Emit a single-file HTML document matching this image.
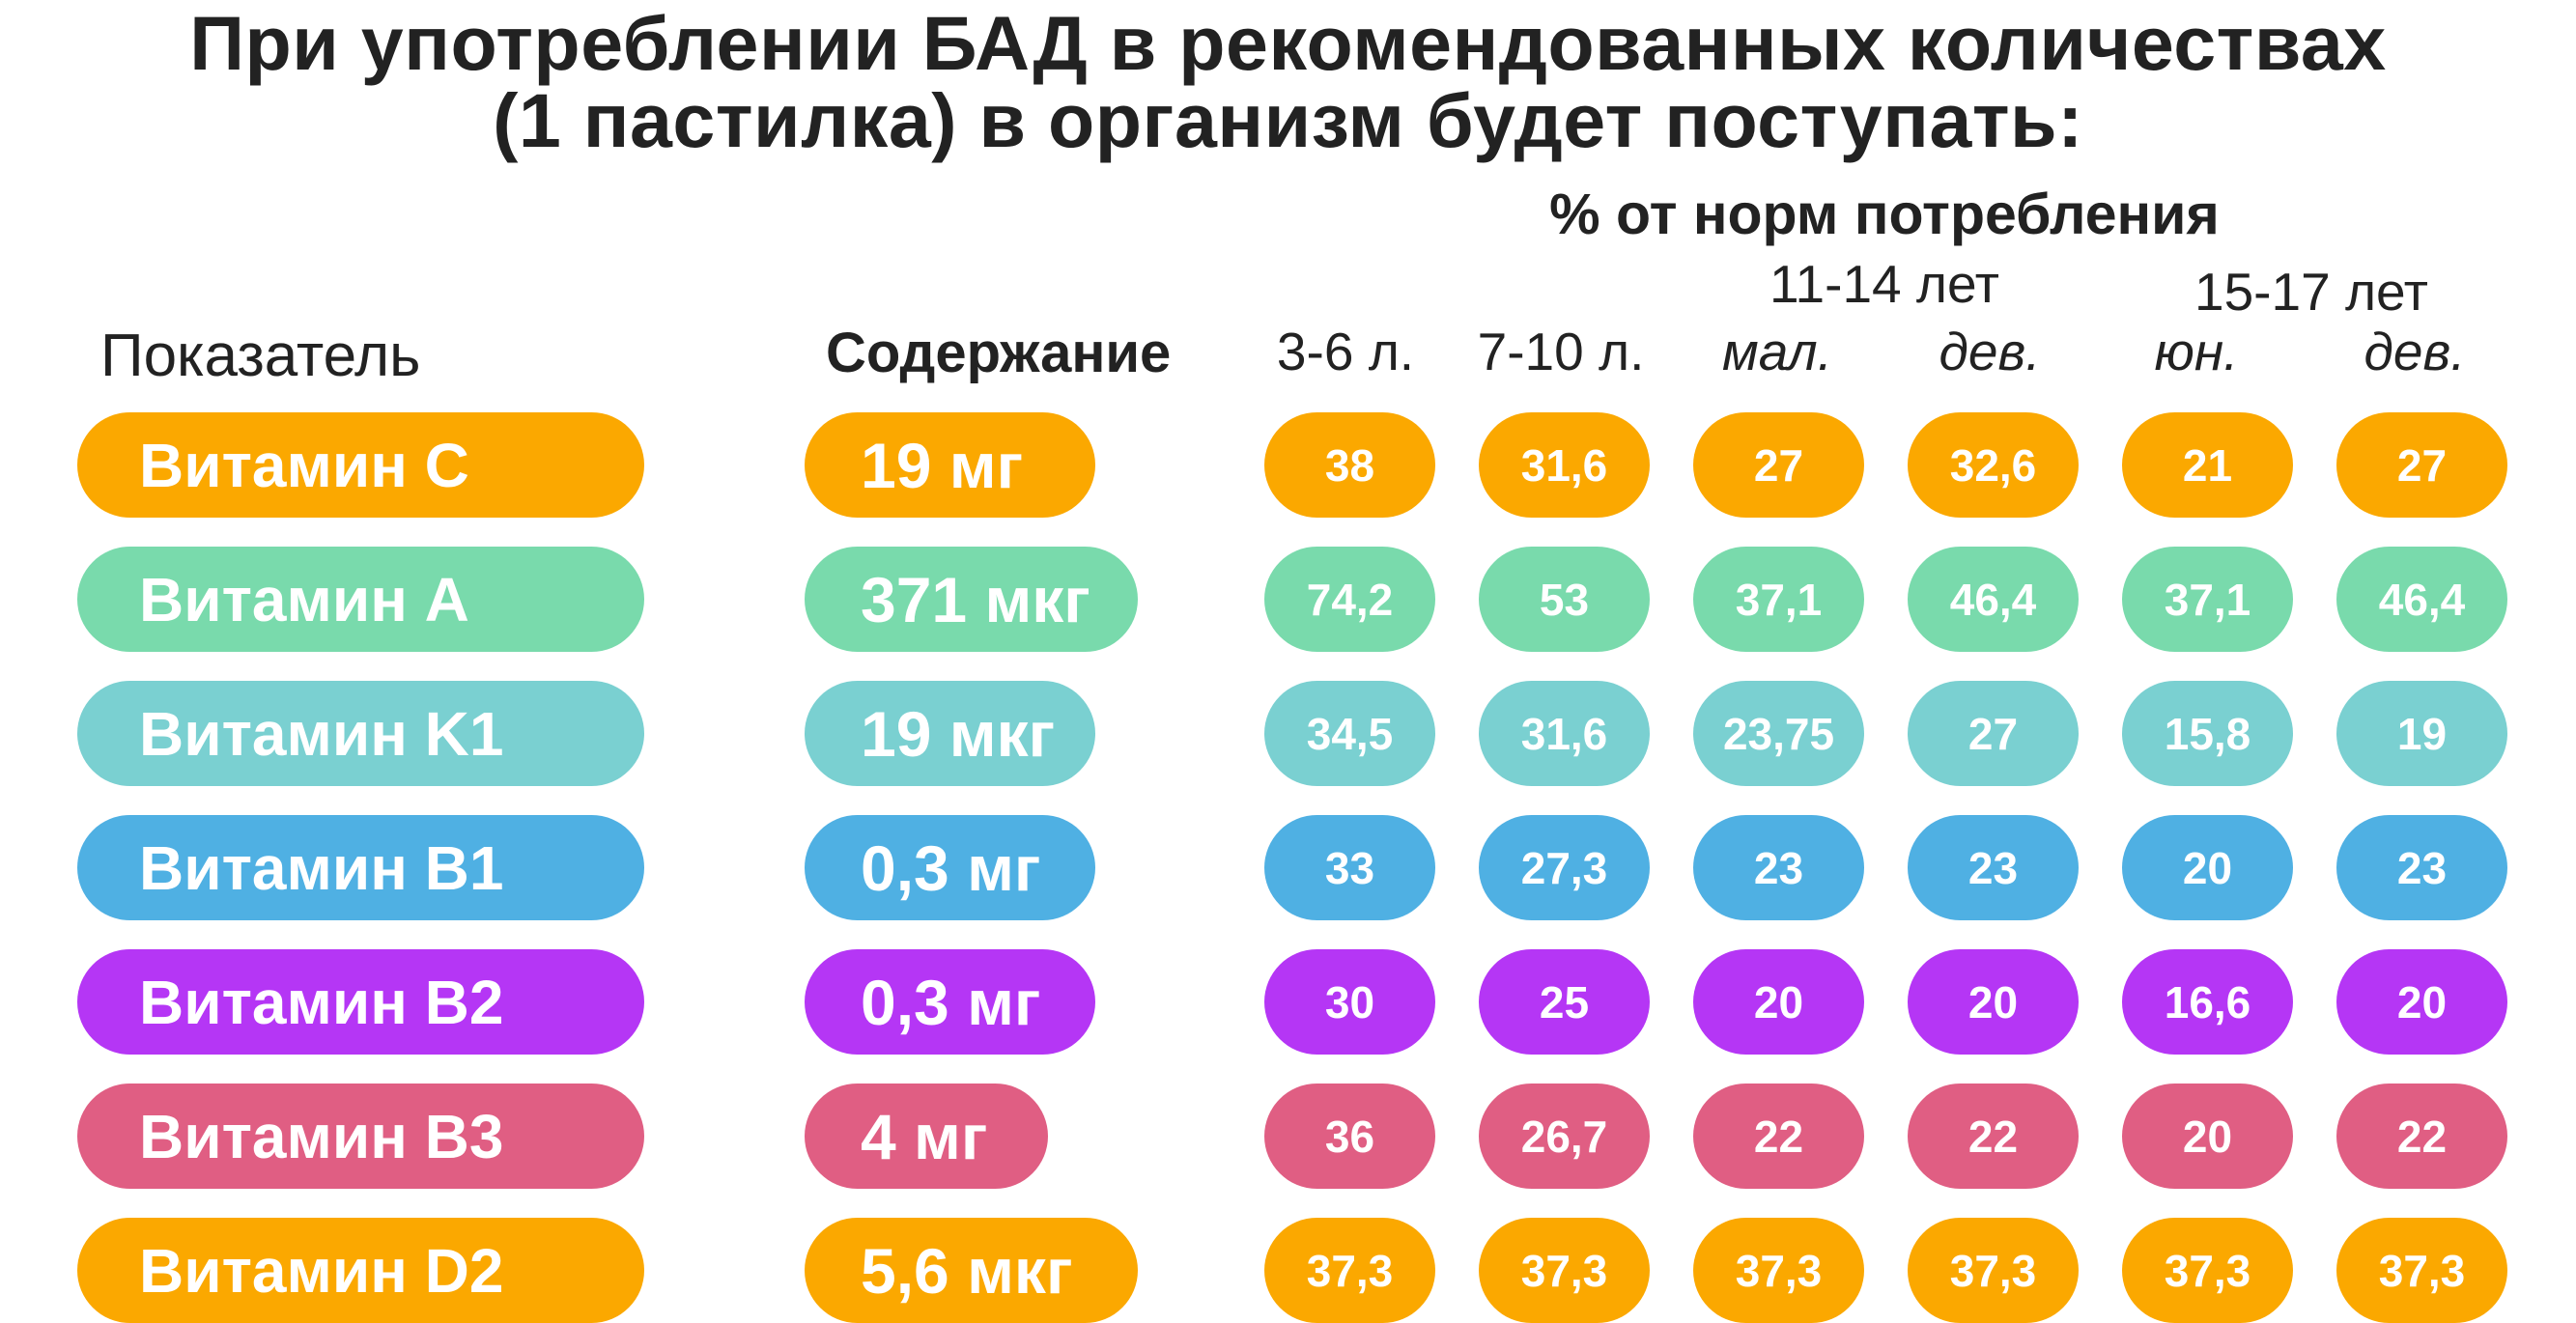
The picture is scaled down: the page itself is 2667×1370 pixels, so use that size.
<!DOCTYPE html>
<html><head><meta charset="utf-8"><style>
*{margin:0;padding:0;box-sizing:border-box}
body{width:2667px;height:1334px;overflow:hidden;background:#fff;position:relative;font-family:"Liberation Sans","DejaVu Sans",sans-serif;color:#222}
.t{position:absolute;white-space:nowrap;line-height:1.15}
.title{left:0;width:2667px;text-align:center;font-weight:bold;font-size:79px;letter-spacing:0.5px}
.h{font-size:55px;transform:translateX(-50%)}
.p{position:absolute;height:109px;border-radius:55px;color:#fff;font-weight:bold;display:flex;align-items:center}
.lab{left:80px;width:587px;padding-left:64px;font-size:64px}
.con{left:833px;padding-left:58px;font-size:66px}
.n{width:177px;justify-content:center;font-size:46px}
</style></head><body>
<div class="t title" style="top:0px">При употреблении БАД в рекомендованных количествах</div>
<div class="t title" style="top:80px">(1 пастилка) в организм будет поступать:</div>
<div class="t h" style="left:1951px;top:189px;font-weight:bold;font-size:59px">% от норм потребления</div>
<div class="t h" style="left:1951px;top:263px">11-14 лет</div>
<div class="t h" style="left:2393px;top:271px">15-17 лет</div>
<div class="t" style="left:104px;top:333px;font-size:62px">Показатель</div>
<div class="t" style="left:855px;top:333px;font-size:58px;font-weight:bold">Содержание</div>
<div class="t h" style="left:1393px;top:333px">3-6 л.</div>
<div class="t h" style="left:1616px;top:333px">7-10 л.</div>
<div class="t h" style="left:1840px;top:333px;font-style:italic">мал.</div>
<div class="t h" style="left:2060px;top:333px;font-style:italic">дев.</div>
<div class="t h" style="left:2274px;top:333px;font-style:italic">юн.</div>
<div class="t h" style="left:2500px;top:333px;font-style:italic">дев.</div>
<div id="rows"></div>
<script>
var rows=[
["Витамин C","19 мг",301,"#FBA800",["38","31,6","27","32,6","21","27"]],
["Витамин A","371 мкг",345,"#79DAAC",["74,2","53","37,1","46,4","37,1","46,4"]],
["Витамин K1","19 мкг",301,"#7AD0D1",["34,5","31,6","23,75","27","15,8","19"]],
["Витамин B1","0,3 мг",301,"#4FB0E3",["33","27,3","23","23","20","23"]],
["Витамин B2","0,3 мг",301,"#B536F5",["30","25","20","20","16,6","20"]],
["Витамин B3","4 мг",252,"#E05E83",["36","26,7","22","22","20","22"]],
["Витамин D2","5,6 мкг",345,"#FBA800",["37,3","37,3","37,3","37,3","37,3","37,3"]]];
var cx=[1397,1619,1841,2063,2285,2507],h="";
rows.forEach(function(r,i){var top=427+i*139;
h+='<div class="p lab" style="top:'+top+'px;background:'+r[3]+'">'+r[0]+'</div>';
h+='<div class="p con" style="top:'+top+'px;width:'+r[2]+'px;background:'+r[3]+'">'+r[1]+'</div>';
r[4].forEach(function(v,j){h+='<div class="p n" style="top:'+top+'px;left:'+(cx[j]-88)+'px;background:'+r[3]+'">'+v+'</div>';});});
document.getElementById("rows").innerHTML=h;
</script>
</body></html>
